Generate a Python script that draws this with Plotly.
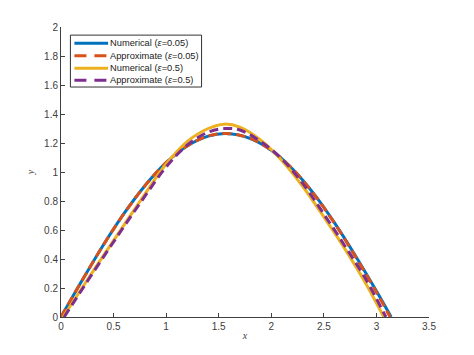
import plotly.graph_objects as go

# Numerical, eps = 0.05
x_num005 = [0.0, 0.2, 0.4, 0.6, 0.8, 1.0, 1.2, 1.4, 1.57, 1.8, 2.0, 2.2, 2.4, 2.6, 2.8, 3.0, 3.14]
y_num005 = [0.0, 0.251, 0.493, 0.714, 0.907, 1.064, 1.179, 1.247, 1.265, 1.231, 1.150, 1.022, 0.854, 0.651, 0.423, 0.179, 0.0]
# Approximate, eps = 0.05
x_app005 = [0.0, 0.2, 0.4, 0.6, 0.8, 1.0, 1.2, 1.4, 1.57, 1.8, 2.0, 2.2, 2.4, 2.6, 2.8, 3.0, 3.13]
y_app005 = [0.0, 0.251, 0.493, 0.714, 0.907, 1.064, 1.180, 1.248, 1.266, 1.232, 1.150, 1.022, 0.853, 0.648, 0.418, 0.172, 0.0]
# Numerical, eps = 0.5
x_num05 = [0.02, 0.2, 0.4, 0.6, 0.8, 1.0, 1.2, 1.4, 1.55, 1.7, 1.9, 2.1, 2.3, 2.5, 2.7, 2.9, 3.07]
y_num05 = [0.0, 0.20, 0.42, 0.635, 0.85, 1.055, 1.21, 1.30, 1.33, 1.31, 1.22, 1.08, 0.90, 0.69, 0.47, 0.23, 0.0]
# Approximate, eps = 0.5
x_app05 = [0.03, 0.2, 0.4, 0.6, 0.8, 1.0, 1.2, 1.4, 1.56, 1.7, 1.9, 2.1, 2.3, 2.5, 2.7, 2.9, 3.09]
y_app05 = [0.0, 0.19, 0.41, 0.625, 0.835, 1.035, 1.185, 1.275, 1.30, 1.29, 1.21, 1.09, 0.92, 0.71, 0.49, 0.26, 0.0]

series_names = ["Numerical (<i>ε</i>=0.05)", "Approximate (<i>ε</i>=0.05)",
                "Numerical (<i>ε</i>=0.5)", "Approximate (<i>ε</i>=0.5)"]
series_colors = ["#0072BD", "#D95319", "#EDB120", "#7E2F8E"]
series_dash = ["solid", "9px,5px", "solid", "9px,5px"]
legend_dash = ["solid", "12px,8px", "solid", "12px,8px"]

x_ticks = [0, 0.5, 1, 1.5, 2, 2.5, 3, 3.5]
x_ticklabels = ["0", "0.5", "1", "1.5", "2", "2.5", "3", "3.5"]
y_ticks = [0, 0.2, 0.4, 0.6, 0.8, 1, 1.2, 1.4, 1.6, 1.8, 2]
y_ticklabels = ["0", "0.2", "0.4", "0.6", "0.8", "1", "1.2", "1.4", "1.6", "1.8", "2"]

data = [(x_num005, y_num005), (x_app005, y_app005), (x_num05, y_num05), (x_app05, y_app05)]

fig = go.Figure()
for (xs, ys), name, col, dsh in zip(data, series_names, series_colors, series_dash):
    fig.add_trace(go.Scatter(x=xs, y=ys, mode="lines", line_shape="spline",
                             line=dict(color=col, width=3, dash=dsh),
                             name=name, showlegend=False))

# Legend box drawn in paper coordinates (MATLAB-style compact legend)
shapes = [dict(type="rect", xref="paper", yref="paper", x0=0.0256, x1=0.382, y0=0.793, y1=0.972,
               line=dict(color="#333333", width=1), fillcolor="white", layer="above")]
annotations = []
legend_rows = [0.944, 0.901, 0.858, 0.816]
for yy, name, col, dsh in zip(legend_rows, series_names, series_colors, legend_dash):
    shapes.append(dict(type="line", xref="paper", yref="paper", x0=0.0364, x1=0.128, y0=yy, y1=yy,
                       line=dict(color=col, width=3, dash=dsh), layer="above"))
    annotations.append(dict(xref="paper", yref="paper", x=0.129, y=yy, xanchor="left", yanchor="middle",
                            text=name, showarrow=False, font=dict(size=9.3, color="#222222")))

axis_common = dict(showline=True, linecolor="#404040", linewidth=1, ticks="inside",
                   ticklen=4, tickcolor="#404040", showgrid=False, zeroline=False,
                   mirror=False, automargin=False, tickfont=dict(size=10, color="#404040"))

fig.update_layout(
    width=474, height=355,
    margin=dict(l=53, r=53, t=19, b=46),
    paper_bgcolor="white", plot_bgcolor="white",
    font=dict(family="Liberation Sans, Arial, sans-serif", size=10, color="#404040"),
    xaxis=dict(range=[0, 3.5], tickvals=x_ticks, ticktext=x_ticklabels,
               title=dict(text="<i>x</i>", font=dict(size=10, family="Liberation Serif, serif"), standoff=0),
               **axis_common),
    yaxis=dict(range=[0, 2], tickvals=y_ticks, ticktext=y_ticklabels,
               title=dict(text="<i>y</i>", font=dict(size=10, family="Liberation Serif, serif"), standoff=7),
               **axis_common),
    shapes=shapes,
    annotations=annotations,
    showlegend=False,
)

fig.write_html("out.html")
